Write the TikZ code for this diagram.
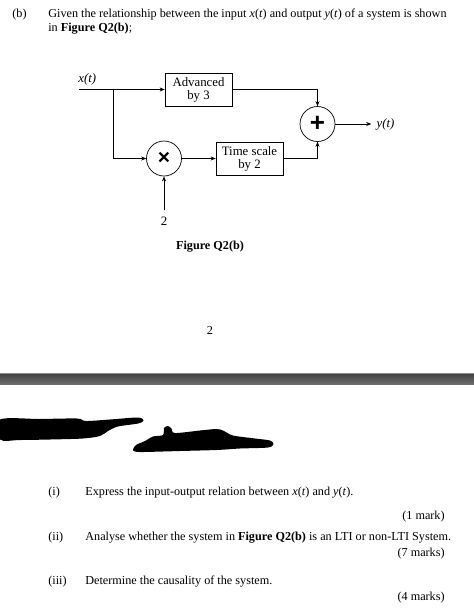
\documentclass[tikz,border=0pt]{standalone}
\usepackage{fontspec}
\setmainfont{Liberation Serif}
\newfontfamily\opfont{Liberation Sans}
\usetikzlibrary{positioning, arrows.meta}

\begin{document}
\begin{tikzpicture}[x=1pt, y=-1pt, >={Stealth[length=5pt, width=4pt]}, line width=0.7pt, on grid,
    font=\fontsize{12.2}{14}\selectfont,
    block/.style={draw, minimum width=67pt, minimum height=33pt, align=center, inner sep=1pt,
      font=\fontsize{12.8}{13}\selectfont},
    op/.style={draw, circle, minimum size=35pt, inner sep=0pt, font=\opfont\bfseries\fontsize{21}{21}\selectfont},
    sig/.style={inner sep=2pt, font=\fontsize{12.8}{14}\selectfont\itshape},
    txt/.style={anchor=base west, inner sep=0pt},
    marks/.style={anchor=base east, inner sep=0pt}]
  \useasboundingbox[fill=white] (0,0) rectangle (474,611);

  % question text
  \node[txt] (qb) at (12,17.5) {(b)};
  \node[txt] (q1) at (48,17.5) {Given the relationship between the input \textit{x}(\textit{t}) and output \textit{y}(\textit{t}) of a system is shown};
  \node[txt] (q2) at (48,31.5) {in \textbf{Figure Q2(b)};};

  % block diagram
  \node[block] (adv) at (198.5,89.5) {Advanced\\by 3};
  \node[op, below left=69pt and 34.5pt of adv] (mul) {×};
  \node[block, right=85.5pt of mul] (tsc) {Time scale\\by 2};
  \node[op, above right=34.5pt and 68pt of tsc, font=\opfont\bfseries\fontsize{26}{26}\selectfont] (sum) {+};
  \node[sig, right=68pt of sum, inner xsep=5pt] (yout) {y(t)};
  \node[sig, below=62.5pt of mul] (two) {\upshape 2};
  \coordinate (xin) at (79,89.5);
  \coordinate (jn) at (113,89.5);
  \node[sig, anchor=south west, inner sep=0pt] (xlbl) at (78,86) {x(t)};

  \draw[->] (xin) -- (adv);
  \draw[->] (jn) |- (mul);
  \draw[->] (mul) -- (tsc);
  \draw[->] (adv) -| (sum);
  \draw[->] (tsc) -| (sum);
  \draw[->] (sum) -- (yout);
  \draw[->, shorten <=4pt] (two) -- (mul);

  \node[anchor=base, inner sep=0pt, font=\fontsize{12.2}{14}\selectfont\bfseries] (cap) at (210,249) {Figure Q2(b)};
  \node[anchor=base, inner sep=0pt] (pg) at (210,334) {2};

  % page break bar
  \shade[top color=black!75, bottom color=black!58] (0,373) rectangle (474,384);
  \draw[black!45, line width=0.6pt] (0,373.3) -- (474,373.3);

  % blacked out marks
  \fill[black] plot[smooth cycle, tension=0.5] coordinates {(0,419.5) (40,419) (77,418.5) (86,421) (110,419.5) (138,417.5)
    (143.5,420.5) (138,423.5) (118,426.5) (108,431) (100,436) (83,438.5) (50,439.5) (20,440) (0,439.5)};
  \fill[black] plot[smooth cycle, tension=0.5] coordinates {(133,449.5) (136,445) (145,441) (153,436.5) (163,435) (164,428)
    (168,426) (171.5,428.5) (175,433) (200,430.5) (217,429) (224,431) (233,435.5) (255,438.5) (270,440.5) (273.5,444)
    (268,447.5) (240,448.5) (216.5,450) (180,451) (143.5,452) (135,451.5)};

  % parts
  \node[txt] (p1) at (48,495.5) {(i)};
  \node[txt] (t1) at (85,495.5) {Express the input-output relation between \textit{x}(\textit{t}) and \textit{y}(\textit{t}).};
  \node[marks] (m1) at (445,519) {(1 mark)};
  \node[txt] (p2) at (48,540.5) {(ii)};
  \node[txt] (t2) at (85,540.5) {Analyse whether the system in \textbf{Figure Q2(b)} is an LTI or non-LTI System.};
  \node[marks] (m2) at (445,556) {(7 marks)};
  \node[txt] (p3) at (48,584.5) {(iii)};
  \node[txt] (t3) at (85,584.5) {Determine the causality of the system.};
  \node[marks] (m3) at (445,600) {(4 marks)};
\end{tikzpicture}
\end{document}
